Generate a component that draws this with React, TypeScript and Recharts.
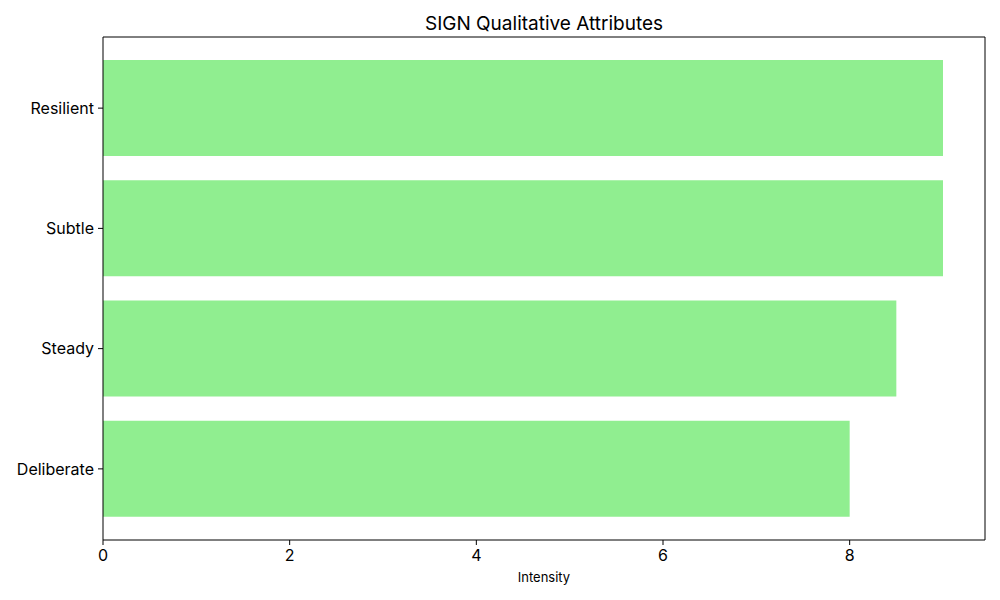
import { BarChart, Bar, XAxis, YAxis, CartesianGrid } from 'recharts'

const attributes = ['Resilient', 'Subtle', 'Steady', 'Deliberate']
const intensity = [9, 9, 8.5, 8]
const xTicks = [0, 2, 4, 6, 8]

const data = attributes.map((name, i) => ({ name, value: intensity[i] }))

const font = 'Inter, "Open Sans", sans-serif'

export default function App() {
  return (
    <div style={{ position: 'absolute', left: 0, top: 0, width: 1000, height: 600, background: '#fff', fontFamily: font }}>
      <div
        style={{
          position: 'absolute',
          top: 12,
          left: 103,
          width: 882,
          textAlign: 'center',
          fontSize: 19,
          color: '#000',
        }}
      >
        SIGN Qualitative Attributes
      </div>
      <BarChart
        width={1000}
        height={600}
        data={data}
        layout="vertical"
        margin={{ top: 37, right: 15, left: 0, bottom: 0 }}
      >
        {/* top and right spines */}
        <CartesianGrid
          stroke="#000"
          horizontalCoordinatesGenerator={({ offset }: any) => [offset.top]}
          verticalCoordinatesGenerator={({ offset }: any) => [offset.left + offset.width]}
        />
        <XAxis
          type="number"
          domain={[0, 9.45]}
          ticks={xTicks}
          height={60}
          tick={{ fontSize: 16, fill: '#000', fontFamily: font, dy: 3 }}
          tickLine={{ stroke: '#000' }}
          axisLine={{ stroke: '#000' }}
          tickSize={5}
          label={{ value: 'Intensity', position: 'insideBottom', offset: 18, fontSize: 13, fill: '#000', fontFamily: font }}
        />
        <YAxis
          type="category"
          dataKey="name"
          width={103}
          padding={{ top: 11, bottom: 11 }}
          tick={{ fontSize: 16, fill: '#000', fontFamily: font, dx: -2 }}
          tickLine={{ stroke: '#000' }}
          axisLine={{ stroke: '#000' }}
          tickSize={5}
        />
        <Bar dataKey="value" fill="#90EE90" barSize={96} isAnimationActive={false} />
      </BarChart>
    </div>
  )
}
